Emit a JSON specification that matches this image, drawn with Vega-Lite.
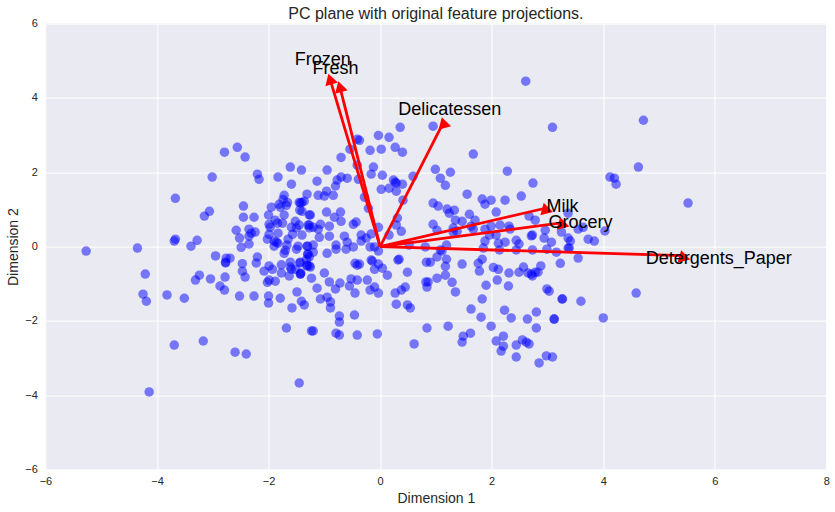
{
  "$schema": "https://vega.github.io/schema/vega-lite/v6.json",
  "width": 781,
  "height": 446,
  "autosize": "none",
  "padding": {"left": 45.4, "top": 23.6, "right": 8.6, "bottom": 42.4},
  "background": "#FFFFFF",
  "title": {"text": "PC plane with original feature projections.", "fontSize": 16, "fontWeight": "normal", "font": "Liberation Sans", "color": "#262626", "anchor": "middle", "offset": -4},
  "config": {
    "view": {"fill": "#EAEAF2", "stroke": null},
    "axis": {"domain": false, "ticks": false, "grid": true, "gridColor": "#FFFFFF", "gridWidth": 1, "gridOpacity": 1, "labelFont": "Liberation Sans", "labelFontSize": 11, "labelColor": "#262626", "labelFlush": false, "titleFont": "Liberation Sans", "titleFontSize": 14, "titleFontWeight": "normal", "titleColor": "#262626", "format": "d"}
  },
  "datasets": {
    "scores": [
      {"dim1":-5.27,"dim2":-0.12},{"dim1":-4.35,"dim2":-0.04},{"dim1":-2.79,"dim2":2.54},{"dim1":-2.56,"dim2":2.67},{"dim1":-2.42,"dim2":2.41},{"dim1":-3.01,"dim2":1.87},{"dim1":-2.2,"dim2":1.95},{"dim1":-2.17,"dim2":1.81},{"dim1":-1.83,"dim2":1.87},{"dim1":-1.61,"dim2":2.14},{"dim1":-1.41,"dim2":2.06},{"dim1":-1.59,"dim2":1.68},{"dim1":-3.67,"dim2":1.3},{"dim1":-3.06,"dim2":0.95},{"dim1":-3.15,"dim2":0.82},{"dim1":-2.45,"dim2":1.09},{"dim1":-2.45,"dim2":0.79},{"dim1":-2.26,"dim2":0.79},{"dim1":-2.58,"dim2":0.44},{"dim1":-2.52,"dim2":0.23},{"dim1":-2.35,"dim2":0.47},{"dim1":-2.31,"dim2":0.36},{"dim1":-2.35,"dim2":0.28},{"dim1":-2.24,"dim2":0.39},{"dim1":-3.67,"dim2":0.2},{"dim1":-3.69,"dim2":0.15},{"dim1":-3.28,"dim2":0.17},{"dim1":-3.39,"dim2":0.01},{"dim1":-2.49,"dim2":-0.02},{"dim1":-2.35,"dim2":0.07},{"dim1":-2.95,"dim2":-0.25},{"dim1":-2.76,"dim2":-0.31},{"dim1":-2.69,"dim2":-0.31},{"dim1":-2.77,"dim2":-0.44},{"dim1":-2.77,"dim2":-0.42},{"dim1":-2.2,"dim2":-0.28},{"dim1":-2.22,"dim2":-0.44},{"dim1":-2.47,"dim2":-0.46},
      {"dim1":-1.72,"dim2":1.38},{"dim1":-1.74,"dim2":1.27},{"dim1":-1.81,"dim2":1.14},{"dim1":-1.66,"dim2":1.19},{"dim1":-1.68,"dim2":1.11},{"dim1":-1.79,"dim2":1.06},{"dim1":-1.95,"dim2":1.06},{"dim1":-1.45,"dim2":1.19},{"dim1":-1.43,"dim2":1.17},{"dim1":-1.36,"dim2":1.22},{"dim1":-1.31,"dim2":1.41},{"dim1":-1.4,"dim2":0.95},{"dim1":-2.0,"dim2":0.85},{"dim1":-1.72,"dim2":0.85},{"dim1":-1.27,"dim2":0.85},{"dim1":-1.88,"dim2":0.71},{"dim1":-1.99,"dim2":0.6},{"dim1":-1.84,"dim2":0.63},{"dim1":-1.75,"dim2":0.63},{"dim1":-1.97,"dim2":0.52},{"dim1":-1.52,"dim2":0.68},{"dim1":-1.45,"dim2":0.58},{"dim1":-1.59,"dim2":0.52},{"dim1":-1.5,"dim2":0.5},{"dim1":-1.29,"dim2":0.58},{"dim1":-1.27,"dim2":0.5},{"dim1":-1.99,"dim2":0.33},{"dim1":-1.83,"dim2":0.36},{"dim1":-1.57,"dim2":0.33},{"dim1":-1.4,"dim2":0.31},{"dim1":-2.02,"dim2":0.2},{"dim1":-1.65,"dim2":0.2},{"dim1":-1.9,"dim2":0.15},{"dim1":-1.86,"dim2":0.12},{"dim1":-1.83,"dim2":0.09},{"dim1":-1.9,"dim2":0.01},{"dim1":-1.67,"dim2":0.04},{"dim1":-1.7,"dim2":-0.1},{"dim1":-1.72,"dim2":-0.18},{"dim1":-1.47,"dim2":0.01},{"dim1":-1.5,"dim2":-0.07},{"dim1":-1.3,"dim2":0.01},{"dim1":-1.3,"dim2":-0.2},{"dim1":-1.27,"dim2":-0.28},{"dim1":-1.43,"dim2":-0.42},{"dim1":-1.61,"dim2":-0.42},{"dim1":-1.77,"dim2":-0.49},{"dim1":-1.99,"dim2":-0.52},{"dim1":-1.31,"dim2":-0.52},
      {"dim1":-4.21,"dim2":-0.74},{"dim1":-3.24,"dim2":-0.77},{"dim1":-3.31,"dim2":-0.9},{"dim1":-3.04,"dim2":-0.87},{"dim1":-2.78,"dim2":-0.82},{"dim1":-2.47,"dim2":-0.66},{"dim1":-2.42,"dim2":-0.82},{"dim1":-2.08,"dim2":-0.66},{"dim1":-1.93,"dim2":-0.61},{"dim1":-1.61,"dim2":-0.55},{"dim1":-1.77,"dim2":-0.71},{"dim1":-1.63,"dim2":-0.79},{"dim1":-1.59,"dim2":-0.61},{"dim1":-1.52,"dim2":-0.61},{"dim1":-1.43,"dim2":-0.74},{"dim1":-1.43,"dim2":-0.74},{"dim1":-1.99,"dim2":-0.9},{"dim1":-2.02,"dim2":-0.96},{"dim1":-1.88,"dim2":-0.93},{"dim1":-2.87,"dim2":-1.06},{"dim1":-2.79,"dim2":-1.17},{"dim1":-4.25,"dim2":-1.28},{"dim1":-4.19,"dim2":-1.47},{"dim1":-3.82,"dim2":-1.3},{"dim1":-3.51,"dim2":-1.39},{"dim1":-2.52,"dim2":-1.33},{"dim1":-2.26,"dim2":-1.33},{"dim1":-2.0,"dim2":-1.33},{"dim1":-2.0,"dim2":-1.52},{"dim1":-1.79,"dim2":-1.39},{"dim1":-1.49,"dim2":-1.22},{"dim1":-1.41,"dim2":-1.47},{"dim1":-1.36,"dim2":-1.57},{"dim1":-1.58,"dim2":-1.65},{"dim1":-1.68,"dim2":-2.19},{"dim1":-3.69,"dim2":-2.65},{"dim1":-3.17,"dim2":-2.54},{"dim1":-2.6,"dim2":-2.84},{"dim1":-2.4,"dim2":-2.89},{"dim1":-1.45,"dim2":-3.67},{"dim1":-4.14,"dim2":-3.91},{"dim1":-1.23,"dim2":-2.27},{"dim1":-1.23,"dim2":-0.85},
      {"dim1":0.36,"dim2":3.21},{"dim1":0.95,"dim2":3.24},{"dim1":3.09,"dim2":3.21},{"dim1":-0.03,"dim2":2.99},{"dim1":0.16,"dim2":2.94},{"dim1":-0.41,"dim2":2.89},{"dim1":-0.37,"dim2":2.86},{"dim1":-0.54,"dim2":2.62},{"dim1":-0.18,"dim2":2.59},{"dim1":0.02,"dim2":2.62},{"dim1":0.27,"dim2":2.67},{"dim1":0.4,"dim2":2.54},{"dim1":1.67,"dim2":2.49},{"dim1":-0.7,"dim2":2.4},{"dim1":-0.41,"dim2":2.19},{"dim1":-0.12,"dim2":2.14},{"dim1":-0.16,"dim2":1.95},{"dim1":0.04,"dim2":1.92},{"dim1":-0.95,"dim2":2.06},{"dim1":0.99,"dim2":2.08},{"dim1":1.26,"dim2":2.0},{"dim1":2.28,"dim2":2.03},{"dim1":1.08,"dim2":1.84},{"dim1":1.17,"dim2":1.65},{"dim1":0.59,"dim2":1.89},{"dim1":2.74,"dim2":1.71},{"dim1":-1.13,"dim2":1.76},{"dim1":-0.77,"dim2":1.79},{"dim1":-0.7,"dim2":1.87},{"dim1":-0.59,"dim2":1.84},{"dim1":-0.39,"dim2":1.81},{"dim1":-0.8,"dim2":1.63},{"dim1":0.24,"dim2":1.79},{"dim1":0.27,"dim2":1.73},{"dim1":0.29,"dim2":1.71},{"dim1":0.4,"dim2":1.68},{"dim1":0.16,"dim2":1.57},{"dim1":0.02,"dim2":1.54},{"dim1":0.29,"dim2":1.49},{"dim1":-0.96,"dim2":1.49},{"dim1":-1.11,"dim2":1.38},{"dim1":-1.0,"dim2":1.36},{"dim1":-0.84,"dim2":1.38},{"dim1":-0.28,"dim2":1.33},{"dim1":1.56,"dim2":1.41},{"dim1":1.83,"dim2":1.28},{"dim1":1.99,"dim2":1.25},{"dim1":1.88,"dim2":1.14},{"dim1":2.24,"dim2":1.25},{"dim1":2.53,"dim2":1.36},{"dim1":0.41,"dim2":1.25},{"dim1":-0.21,"dim2":1.03},{"dim1":0.95,"dim2":1.17},{"dim1":1.04,"dim2":1.09},{"dim1":1.2,"dim2":1.01},{"dim1":1.33,"dim2":0.98},{"dim1":1.24,"dim2":0.9},{"dim1":2.08,"dim2":0.93},{"dim1":1.6,"dim2":0.87},{"dim1":-0.96,"dim2":0.93},{"dim1":-0.71,"dim2":0.93},{"dim1":-1.25,"dim2":0.85},{"dim1":-0.82,"dim2":0.79},{"dim1":-0.7,"dim2":0.68},{"dim1":0.31,"dim2":0.77},{"dim1":2.67,"dim2":0.82},{"dim1":2.78,"dim2":0.71},{"dim1":1.35,"dim2":0.71},{"dim1":1.47,"dim2":0.68},{"dim1":1.7,"dim2":0.71},{"dim1":0.95,"dim2":0.6},{"dim1":-0.43,"dim2":0.66},{"dim1":-0.48,"dim2":0.6},{"dim1":-1.07,"dim2":0.6},{"dim1":-0.91,"dim2":0.55},{"dim1":-1.27,"dim2":0.58},{"dim1":-1.2,"dim2":0.52},{"dim1":-1.11,"dim2":0.47},{"dim1":0.29,"dim2":0.58},{"dim1":-0.03,"dim2":0.52},{"dim1":0.38,"dim2":0.41},{"dim1":1.02,"dim2":0.44},{"dim1":1.31,"dim2":0.5},{"dim1":1.38,"dim2":0.41},{"dim1":1.31,"dim2":0.39},{"dim1":1.63,"dim2":0.55},{"dim1":1.67,"dim2":0.47},{"dim1":1.88,"dim2":0.47},{"dim1":1.99,"dim2":0.55},{"dim1":2.15,"dim2":0.58},{"dim1":2.31,"dim2":0.55},{"dim1":2.33,"dim2":0.47},{"dim1":2.08,"dim2":0.31},{"dim1":1.96,"dim2":0.31},{"dim1":1.88,"dim2":0.15},{"dim1":2.12,"dim2":0.09},{"dim1":2.24,"dim2":0.12},{"dim1":2.73,"dim2":0.31},{"dim1":2.71,"dim2":0.29},{"dim1":2.44,"dim2":0.17},{"dim1":2.49,"dim2":0.07},{"dim1":2.96,"dim2":0.44},{"dim1":2.94,"dim2":0.23},{"dim1":3.25,"dim2":0.39},{"dim1":1.85,"dim2":-0.04},{"dim1":2.14,"dim2":-0.09},{"dim1":2.44,"dim2":-0.09},{"dim1":2.73,"dim2":-0.09},{"dim1":2.99,"dim2":-0.07},{"dim1":3.16,"dim2":-0.15},{"dim1":3.37,"dim2":0.23},{"dim1":3.37,"dim2":-0.04},{"dim1":-0.64,"dim2":0.28},{"dim1":-0.91,"dim2":0.28},{"dim1":-1.09,"dim2":0.25},{"dim1":-0.59,"dim2":0.12},{"dim1":-0.34,"dim2":0.31},{"dim1":-0.25,"dim2":0.23},{"dim1":-0.16,"dim2":0.34},{"dim1":-0.34,"dim2":0.15},{"dim1":0.16,"dim2":0.31},{"dim1":-0.79,"dim2":0.04},{"dim1":-1.2,"dim2":0.04},{"dim1":-1.31,"dim2":0.01},{"dim1":-0.61,"dim2":-0.07},{"dim1":-0.48,"dim2":-0.01},{"dim1":-0.18,"dim2":-0.01},{"dim1":-0.1,"dim2":-0.01},{"dim1":-0.03,"dim2":-0.12},{"dim1":-0.95,"dim2":-0.18},{"dim1":-0.79,"dim2":-0.07},{"dim1":-1.2,"dim2":-0.15},{"dim1":-1.29,"dim2":-0.2},{"dim1":-1.32,"dim2":-0.34},{"dim1":0.52,"dim2":0.04},{"dim1":0.81,"dim2":-0.01},{"dim1":1.19,"dim2":0.04},{"dim1":1.08,"dim2":-0.09},{"dim1":1.11,"dim2":-0.12},{"dim1":1.02,"dim2":-0.28},{"dim1":1.19,"dim2":-0.34},{"dim1":1.47,"dim2":-0.47},{"dim1":1.76,"dim2":-0.45},{"dim1":1.83,"dim2":-0.34},{"dim1":0.83,"dim2":-0.42},{"dim1":0.9,"dim2":-0.42},{"dim1":1.17,"dim2":-0.53},{"dim1":0.34,"dim2":-0.34},{"dim1":0.32,"dim2":-0.36},{"dim1":-0.16,"dim2":-0.36},{"dim1":-0.14,"dim2":-0.39},{"dim1":-0.45,"dim2":-0.45},{"dim1":-0.37,"dim2":-0.47},{"dim1":-0.41,"dim2":-0.5},{"dim1":-0.03,"dim2":-0.47},{"dim1":0.04,"dim2":-0.58},{"dim1":2.03,"dim2":-0.56},{"dim1":2.57,"dim2":-0.55},{"dim1":2.88,"dim2":-0.52},{"dim1":3.23,"dim2":-0.45},{"dim1":-1.27,"dim2":-0.52},{"dim1":-1.4,"dim2":1.19},{"dim1":-1.44,"dim2":0.98},
      {"dim1":-0.1,"dim2":-0.61},{"dim1":0.13,"dim2":-0.77},{"dim1":0.49,"dim2":-0.69},{"dim1":1.78,"dim2":-0.66},{"dim1":2.12,"dim2":-0.61},{"dim1":2.31,"dim2":-0.71},{"dim1":2.49,"dim2":-0.69},{"dim1":2.65,"dim2":-0.71},{"dim1":2.71,"dim2":-0.74},{"dim1":2.73,"dim2":-0.79},{"dim1":2.78,"dim2":-0.69},{"dim1":2.83,"dim2":-0.69},{"dim1":1.17,"dim2":-0.77},{"dim1":1.02,"dim2":-0.85},{"dim1":1.29,"dim2":-0.96},{"dim1":1.35,"dim2":-1.22},{"dim1":0.82,"dim2":-0.95},{"dim1":0.86,"dim2":-0.95},{"dim1":0.84,"dim2":-1.09},{"dim1":2.1,"dim2":-0.9},{"dim1":1.9,"dim2":-1.04},{"dim1":2.3,"dim2":-1.06},{"dim1":2.99,"dim2":-1.14},{"dim1":3.03,"dim2":-1.2},{"dim1":3.27,"dim2":-1.41},{"dim1":1.83,"dim2":-1.41},{"dim1":1.63,"dim2":-1.68},{"dim1":2.23,"dim2":-1.71},{"dim1":1.81,"dim2":-1.9},{"dim1":2.35,"dim2":-1.92},{"dim1":2.64,"dim2":-1.95},{"dim1":2.8,"dim2":-1.76},{"dim1":3.12,"dim2":-1.95},{"dim1":2.8,"dim2":-2.19},{"dim1":1.99,"dim2":-2.14},{"dim1":1.62,"dim2":-2.33},{"dim1":1.49,"dim2":-2.41},{"dim1":1.47,"dim2":-2.57},{"dim1":2.21,"dim2":-2.41},{"dim1":2.08,"dim2":-2.54},{"dim1":2.21,"dim2":-2.68},{"dim1":2.17,"dim2":-2.81},{"dim1":2.44,"dim2":-2.65},{"dim1":2.55,"dim2":-2.51},{"dim1":2.62,"dim2":-2.57},{"dim1":2.67,"dim2":-2.62},{"dim1":2.44,"dim2":-2.97},{"dim1":2.98,"dim2":-2.94},{"dim1":3.09,"dim2":-2.97},{"dim1":2.85,"dim2":-3.13},{"dim1":1.22,"dim2":-2.14},{"dim1":0.84,"dim2":-2.19},{"dim1":0.61,"dim2":-2.62},{"dim1":-0.05,"dim2":-2.35},{"dim1":-0.41,"dim2":-2.38},{"dim1":-0.73,"dim2":-2.38},{"dim1":-0.79,"dim2":-2.33},{"dim1":-1.2,"dim2":-2.27},{"dim1":-0.73,"dim2":-1.87},{"dim1":-0.73,"dim2":-2.03},{"dim1":-0.46,"dim2":-1.84},{"dim1":-0.89,"dim2":-1.65},{"dim1":-0.89,"dim2":-1.49},{"dim1":-0.95,"dim2":-1.36},{"dim1":-1.07,"dim2":-1.41},{"dim1":-1.13,"dim2":-1.12},{"dim1":-1.0,"dim2":-0.71},{"dim1":-0.91,"dim2":-0.95},{"dim1":-0.8,"dim2":-1.14},{"dim1":-0.72,"dim2":-0.98},{"dim1":-0.55,"dim2":-1.06},{"dim1":-0.52,"dim2":-0.87},{"dim1":-0.41,"dim2":-0.9},{"dim1":-0.23,"dim2":-0.9},{"dim1":-0.45,"dim2":-1.25},{"dim1":-0.18,"dim2":-1.17},{"dim1":-0.1,"dim2":-1.09},{"dim1":-0.03,"dim2":-1.25},{"dim1":0.27,"dim2":-1.25},{"dim1":0.38,"dim2":-1.17},{"dim1":0.45,"dim2":-1.09},{"dim1":0.29,"dim2":-1.55},{"dim1":0.49,"dim2":-1.57},{"dim1":0.54,"dim2":-1.65},{"dim1":-1.42,"dim2":-0.71},{"dim1":-1.25,"dim2":-0.55},{"dim1":-1.31,"dim2":-0.5},{"dim1":-1.44,"dim2":-0.44},
      {"dim1":4.72,"dim2":3.4},{"dim1":4.63,"dim2":2.14},{"dim1":4.12,"dim2":1.87},{"dim1":4.2,"dim2":1.84},{"dim1":4.23,"dim2":1.68},{"dim1":5.52,"dim2":1.17},{"dim1":2.61,"dim2":4.45},{"dim1":3.37,"dim2":0.9},{"dim1":3.55,"dim2":0.47},{"dim1":3.64,"dim2":0.52},{"dim1":4.03,"dim2":0.42},{"dim1":3.07,"dim2":0.12},{"dim1":3.41,"dim2":0.15},{"dim1":3.73,"dim2":0.2},{"dim1":3.84,"dim2":0.15},{"dim1":3.39,"dim2":-0.04},{"dim1":3.55,"dim2":-0.31},{"dim1":3.6,"dim2":-1.47},{"dim1":4.59,"dim2":-1.25},{"dim1":4.0,"dim2":-1.92},{"dim1":3.26,"dim2":-1.41},{"dim1":3.12,"dim2":-1.95}
    ],
    "features": [
      {"feature":"Frozen","dim1":-0.898,"dim2":4.508,"labelX":-1.03,"labelY":5.07},
      {"feature":"Fresh","dim1":-0.722,"dim2":4.305,"labelX":-0.8,"labelY":4.83},
      {"feature":"Delicatessen","dim1":1.133,"dim2":3.334,"labelX":1.25,"labelY":3.72},
      {"feature":"Milk","dim1":2.959,"dim2":1.032,"labelX":3.27,"labelY":1.12},
      {"feature":"Grocery","dim1":3.253,"dim2":0.641,"labelX":3.59,"labelY":0.7},
      {"feature":"Detergents_Paper","dim1":5.421,"dim2":-0.243,"labelX":6.07,"labelY":-0.29}
    ]
  },
  "layer": [
    {
      "data": {"name": "scores"},
      "mark": {"type": "circle", "color": "#0000FF", "opacity": 0.5, "size": 90},
      "encoding": {
        "x": {"field": "dim1", "type": "quantitative", "title": "Dimension 1", "scale": {"domain": [-6, 8], "nice": false}, "axis": {"values": [-6, -4, -2, 0, 2, 4, 6, 8], "labelPadding": 6, "titlePadding": 5}},
        "y": {"field": "dim2", "type": "quantitative", "title": "Dimension 2", "scale": {"domain": [-6, 6], "nice": false}, "axis": {"values": [-6, -4, -2, 0, 2, 4, 6], "labelPadding": 8, "titlePadding": 4}}
      }
    },
    {
      "data": {"name": "features"},
      "mark": {"type": "rule", "color": "#FF0000", "strokeWidth": 2.8},
      "encoding": {
        "x": {"field": "dim1", "type": "quantitative"},
        "y": {"field": "dim2", "type": "quantitative"},
        "x2": {"datum": 0},
        "y2": {"datum": 0}
      }
    },
    {
      "data": {"name": "features"},
      "mark": {"type": "point", "shape": "triangle-up", "filled": true, "color": "#FF0000", "opacity": 1, "size": 169},
      "encoding": {
        "x": {"field": "dim1", "type": "quantitative"},
        "y": {"field": "dim2", "type": "quantitative"},
        "angle": {"field": "feature", "type": "nominal", "legend": null, "scale": {"domain": ["Frozen", "Fresh", "Delicatessen", "Milk", "Grocery", "Detergents_Paper"], "range": [343.4, 345.9, 27, 76.9, 82.5, 91.7]}}
      }
    },
    {
      "data": {"name": "features"},
      "mark": {"type": "text", "font": "Liberation Sans", "fontSize": 18, "color": "#000000", "align": "center", "baseline": "middle", "dy": 2},
      "encoding": {
        "x": {"field": "labelX", "type": "quantitative"},
        "y": {"field": "labelY", "type": "quantitative"},
        "text": {"field": "feature", "type": "nominal"}
      }
    }
  ]
}
